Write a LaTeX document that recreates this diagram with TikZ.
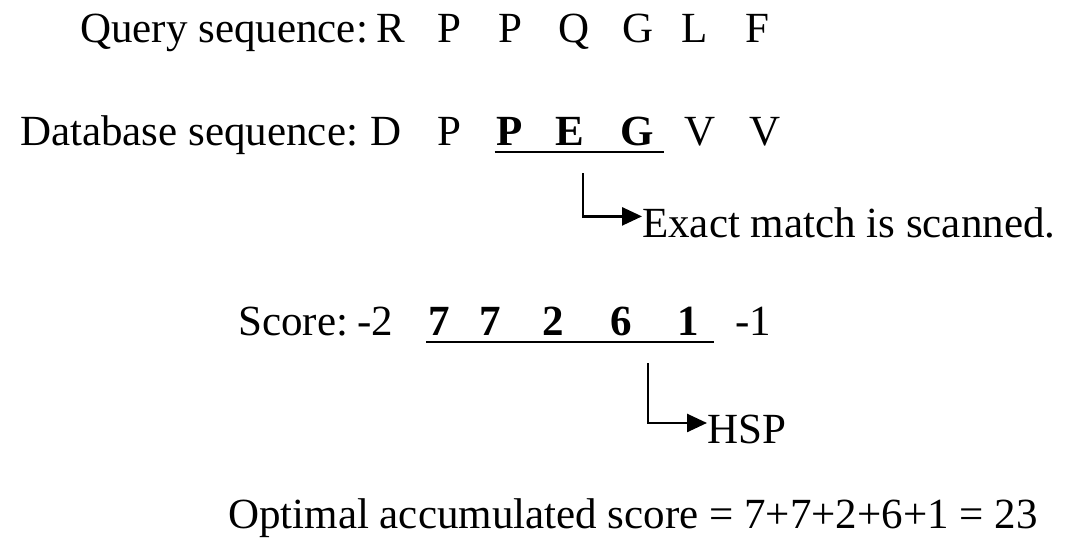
\documentclass[tikz,border=0pt]{standalone}
\usepackage{fontspec}
\setmainfont{Liberation Serif}
\usetikzlibrary{arrows.meta}

\begin{document}
\begin{tikzpicture}
[x=1pt,y=-1pt,%
  every node/.style={inner sep=0pt,anchor=base,font=\fontsize{43}{50}\selectfont},%
  lead/.style={anchor=base west},%
  miss/.style={},%
  hit/.style={font=\fontsize{43}{50}\selectfont\bfseries},%
  bar/.style={line width=2.6pt},%
  pointer/.style={line width=2.6pt,-{Triangle[length=20pt,width=18pt]}}]
\useasboundingbox (0,0) rectangle (1073,544);
% query row
\node[lead] (qlabel) at (80,42) {Query sequence:};
\foreach \res/\x [count=\i] in {R/391,P/449,P/510,Q/574,G/638,L/695,F/757}
  \node (q\i) at (\x,42) {\res};
% database row
\node[lead] (dlabel) at (20,145) {Database sequence:};
\foreach \res/\x/\how [count=\i] in {D/386/miss,P/449/miss,P/510/hit,E/570/hit,G/637/hit,V/700/miss,V/765/miss}
  \node[\how] (d\i) at (\x,145) {\res};
\draw[bar] ([xshift=-2pt,yshift=-7pt]d3.base west) -- ([xshift=10pt,yshift=-7pt]d5.base east);
\coordinate (dbend) at (583,173);
\node[lead] (exact) at (642,237) {Exact match is scanned.};
\draw[pointer] (dbend) |- ([yshift=6pt]exact.west);
% score row
\node[lead] (slabel) at (238,335) {Score:};
\foreach \val/\x/\how [count=\i] in {-2/375/miss,7/439/hit,7/490/hit,2/553/hit,6/621/hit,1/688/hit,-1/753/miss}
  \node[\how] (s\i) at (\x,335) {\val};
\draw[bar] ([xshift=-2pt,yshift=-7pt]s2.base west) -- ([xshift=15pt,yshift=-7pt]s6.base east);
\coordinate (sbend) at (648,363);
\node[lead] (hsp) at (707,443) {HSP};
\draw[pointer] (sbend) |- ([yshift=6pt]hsp.west);
% total
\node[lead] (total) at (228,528) {Optimal accumulated score = 7+7+2+6+1 = 23};
\end{tikzpicture}
\end{document}
